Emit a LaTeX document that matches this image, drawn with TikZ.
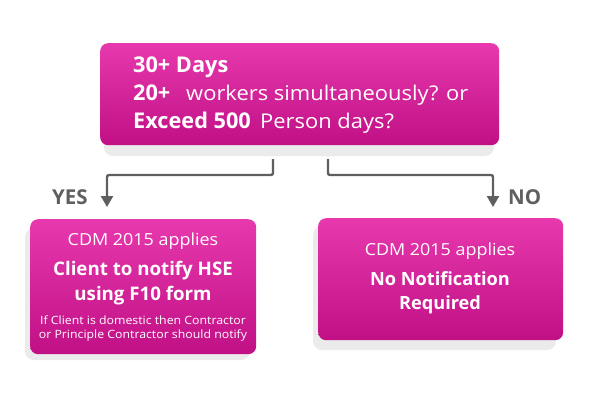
\documentclass[tikz,border=0pt]{standalone}
\usepackage{fontspec}
\setmainfont{Open Sans}
\newfontfamily\regf{Open Sans}[FakeStretch=1.08]
\usetikzlibrary{arrows.meta}
\definecolor{pinktop}{RGB}{231,56,173}
\definecolor{pinkbot}{RGB}{193,16,133}
\definecolor{arrowgray}{RGB}{95,95,95}
\begin{document}
\begin{tikzpicture}[x=1pt,y=-1pt,
  box/.style={rounded corners=8pt, top color=pinktop, bottom color=pinkbot, draw=none, inner sep=0pt, anchor=north west},
  shade box/.style={rounded corners=9pt, fill=black!8},
  conn/.style={draw=arrowgray, line width=2.4pt, rounded corners=2pt, -{Triangle[width=12pt,length=11pt]}},
  lbl/.style={font=\bfseries\fontsize{20.5}{24}\selectfont, text=arrowgray, anchor=base west, inner sep=0pt},
  big/.style={font=\regf\fontsize{20.3}{24}\selectfont, text=white, anchor=base west, inner sep=0pt},
  bigb/.style={font=\bfseries\fontsize{21.7}{24}\selectfont, text=white, anchor=base west, inner sep=0pt},
  mid/.style={font=\regf\fontsize{16.6}{20}\selectfont, text=white, anchor=base, inner sep=0pt},
  midb/.style={font=\bfseries\fontsize{18.7}{24}\selectfont, text=white, anchor=base, inner sep=0pt},
  small/.style={font=\regf\fontsize{11.4}{14}\selectfont, text=white, anchor=base, inner sep=0pt}]
\useasboundingbox (0,0) rectangle (600,400);
% shadows
\fill[shade box] (104,56) rectangle (494,156);
\fill[shade box] (25,228) rectangle (250,360);
\fill[shade box] (313,226) rectangle (556,350);
% boxes
\node[box, minimum width=399pt, minimum height=102pt] (top) at (100,43) {};
\node[box, minimum width=226pt, minimum height=135pt] (lbox) at (30,219) {};
\node[box, minimum width=245pt, minimum height=122pt] (rbox) at (318,218) {};
% top text
\node[bigb] (t1) at (133,72) {30+ Days};
\node[bigb] (t2a) at (133,100) {20+};
\node[big] (t2b) at (186,100) {workers simultaneously? or};
\node[bigb] (t3a) at (133,128) {Exceed 500};
\node[big] (t3b) at (260,128) {Person days?};
% connectors
\coordinate (ys) at (273,159);
\coordinate (ye) at (107,207);
\coordinate (ns) at (328,159);
\coordinate (ne) at (493,207);
\draw[conn] (ys) -- ++(0,16) -| (ye);
\draw[conn] (ns) -- ++(0,16) -| (ne);
\node[lbl] (yes) at (52,204) {YES};
\node[lbl] (no) at (508,204) {NO};
% left box text
\node[mid] (l1) at (143,245) {CDM 2015 applies};
\node[midb] (l2) at (143,275) {Client to notify HSE};
\node[midb] (l3) at (143,300) {using F10 form};
\node[small] (l4) at (143,324) {If Client is domestic then Contractor};
\node[small] (l5) at (143,338) {or Principle Contractor should notify};
% right box text
\node[mid] (r1) at (440,255) {CDM 2015 applies};
\node[midb, font=\bfseries\fontsize{18.2}{24}\selectfont] (r2) at (440,285) {No Notification};
\node[midb, font=\bfseries\fontsize{18.2}{24}\selectfont] (r3) at (440,309) {Required};
\end{tikzpicture}
\end{document}
